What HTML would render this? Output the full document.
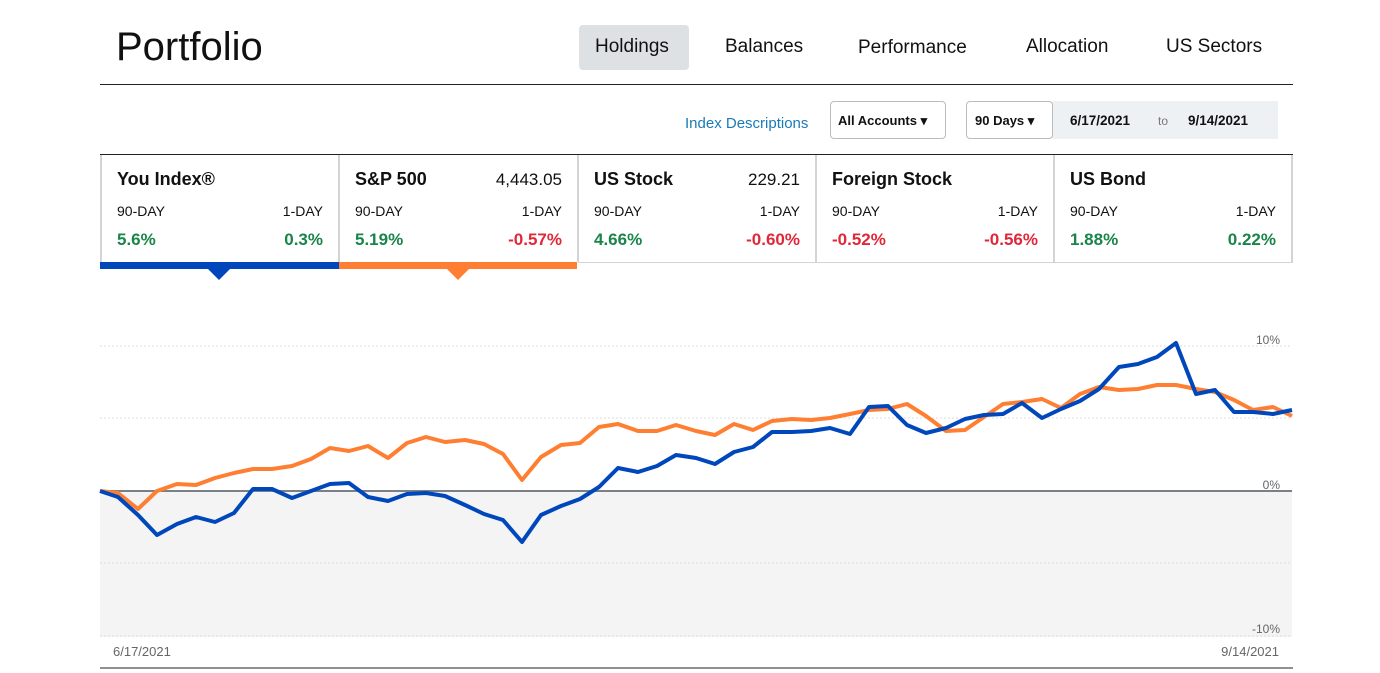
<!DOCTYPE html>
<html><head><meta charset="utf-8"><style>
*{margin:0;padding:0;box-sizing:border-box}
body{width:1380px;height:673px;background:#fff;font-family:"Liberation Sans",sans-serif;color:#111;position:relative;overflow:hidden}
.a{position:absolute;white-space:nowrap}
.nav{font-size:19px;top:36px}
.tile{position:absolute;top:155px;height:107px;border-right:2px solid #d4d4d4}
.tile .t{position:absolute;left:17px;top:14px;font-size:18px;font-weight:bold}
.tile .v{position:absolute;right:15px;top:15px;font-size:17px}
.tile .l{position:absolute;top:48px;font-size:14px}
.tile .p{position:absolute;top:75px;font-size:17px;font-weight:bold}
.g{color:#1a8449}.r{color:#e0283a}
</style></head><body>
<div class="a" style="left:116px;top:25px;font-size:40px">Portfolio</div>
<div class="a" style="left:579px;top:25px;width:110px;height:45px;background:#dde1e4;border-radius:4px"></div>
<div class="a nav" style="left:595px">Holdings</div>
<div class="a nav" style="left:725px">Balances</div>
<div class="a nav" style="left:858px;top:37px">Performance</div>
<div class="a nav" style="left:1026px">Allocation</div>
<div class="a nav" style="left:1166px">US Sectors</div>
<div class="a" style="left:100px;top:84px;width:1193px;height:1px;background:#222"></div>
<div class="a" style="left:685px;top:115px;font-size:15px;color:#1a7bb8">Index Descriptions</div>
<div class="a" style="left:830px;top:101px;width:116px;height:38px;border:1px solid #bbb;border-radius:4px;font-size:13px;font-weight:bold;padding:11px 0 0 7px">All Accounts ▾</div>
<div class="a" style="left:1052px;top:101px;width:226px;height:38px;background:#edf1f4"></div>
<div class="a" style="left:966px;top:101px;width:87px;height:38px;border:1px solid #bbb;border-radius:4px;background:#fff;font-size:13px;font-weight:bold;padding:11px 0 0 8px">90 Days ▾</div>
<div class="a" style="left:1070px;top:113px;font-size:13.5px;font-weight:bold">6/17/2021</div>
<div class="a" style="left:1158px;top:114px;font-size:12px;color:#777">to</div>
<div class="a" style="left:1188px;top:113px;font-size:13.5px;font-weight:bold">9/14/2021</div>
<div class="a" style="left:100px;top:154px;width:1193px;height:1px;background:#222"></div>
<div class="a" style="left:100px;top:155px;width:2px;height:107px;background:#d4d4d4"></div>
<div class="a" style="left:578px;top:262px;width:715px;height:1px;background:#d4d4d4"></div>
<div class="tile" style="left:100px;width:240px"><div class="t">You Index®</div><div class="l" style="left:17px">90-DAY</div><div class="l" style="right:15px">1-DAY</div><div class="p g" style="left:17px">5.6%</div><div class="p g" style="right:15px">0.3%</div></div>
<div class="tile" style="left:340px;width:239px"><div class="t" style="left:15px">S&amp;P 500</div><div class="v">4,443.05</div><div class="l" style="left:15px">90-DAY</div><div class="l" style="right:15px">1-DAY</div><div class="p g" style="left:15px">5.19%</div><div class="p r" style="right:15px">-0.57%</div></div>
<div class="tile" style="left:579px;width:238px"><div class="t" style="left:15px">US Stock</div><div class="v">229.21</div><div class="l" style="left:15px">90-DAY</div><div class="l" style="right:15px">1-DAY</div><div class="p g" style="left:15px">4.66%</div><div class="p r" style="right:15px">-0.60%</div></div>
<div class="tile" style="left:817px;width:238px"><div class="t" style="left:15px">Foreign Stock</div><div class="l" style="left:15px">90-DAY</div><div class="l" style="right:15px">1-DAY</div><div class="p r" style="left:15px">-0.52%</div><div class="p r" style="right:15px">-0.56%</div></div>
<div class="tile" style="left:1055px;width:238px"><div class="t" style="left:15px">US Bond</div><div class="l" style="left:15px">90-DAY</div><div class="l" style="right:15px">1-DAY</div><div class="p g" style="left:15px">1.88%</div><div class="p g" style="right:15px">0.22%</div></div>
<svg class="a" style="left:0;top:0" width="1380" height="673">
<rect x="100" y="262" width="239" height="7" fill="#0047bb"/>
<polygon points="207,268 231,268 219,280" fill="#0047bb"/>
<rect x="339" y="262" width="238" height="7" fill="#ff7f32"/>
<polygon points="446,268 470,268 458,280" fill="#ff7f32"/>
<rect x="100" y="491" width="1192" height="146" fill="#f4f4f4"/>
<g stroke="#ddd" stroke-dasharray="2,2" stroke-width="1">
<line x1="100" y1="346" x2="1292" y2="346"/><line x1="100" y1="418" x2="1292" y2="418"/>
<line x1="100" y1="563" x2="1292" y2="563"/><line x1="100" y1="636" x2="1292" y2="636"/></g>
<line x1="100" y1="491" x2="1292" y2="491" stroke="#7a8085" stroke-width="2"/>
<g font-size="12" fill="#666" text-anchor="end" font-family="Liberation Sans,sans-serif">
<text x="1280" y="344">10%</text><text x="1280" y="489">0%</text><text x="1280" y="633">-10%</text>
<text x="1279" y="656" font-size="13">9/14/2021</text></g>
<text x="113" y="656" font-size="13" fill="#666" font-family="Liberation Sans,sans-serif">6/17/2021</text>
<line x1="100" y1="668" x2="1293" y2="668" stroke="#222" stroke-width="1"/>
<polyline fill="none" stroke="#ff7f32" stroke-width="4" stroke-linejoin="round" points="100,491 118,493 138,509 157,491 177,484 196,485 215,478 234,473 253,469 272,469 292,466 311,459 330,448 349,451 368,446 388,458 407,443 426,437 445,442 465,440 484,444 503,454 522,480 541,457 561,445 580,443 599,427 618,424 638,431 657,431 676,425 696,431 715,435 734,424 753,430 772,421 792,419 811,420 830,418 850,414 869,410 888,409 907,404 926,416 946,431 965,430 984,417 1003,404 1022,402 1042,399 1061,408 1080,394 1099,387 1119,390 1138,389 1157,385 1176,385 1196,389 1215,392 1234,400 1253,410 1273,407 1292,416"/>
<polyline fill="none" stroke="#0047bb" stroke-width="4" stroke-linejoin="round" points="100,491 118,497 138,515 157,535 177,524 196,517 215,522 234,513 253,489 272,489 292,498 311,491 330,484 349,483 368,497 388,501 407,494 426,493 445,496 465,505 484,514 503,520 522,542 541,515 561,506 580,499 599,487 618,468 638,472 657,466 676,455 696,458 715,464 734,452 753,447 772,432 792,432 811,431 830,428 850,434 869,407 888,406 907,425 926,433 946,428 965,419 984,415 1003,414 1022,403 1042,418 1061,409 1080,401 1099,389 1119,367 1138,364 1157,357 1176,343 1196,394 1215,390 1234,412 1253,412 1273,414 1292,410"/>
</svg>
</body></html>
